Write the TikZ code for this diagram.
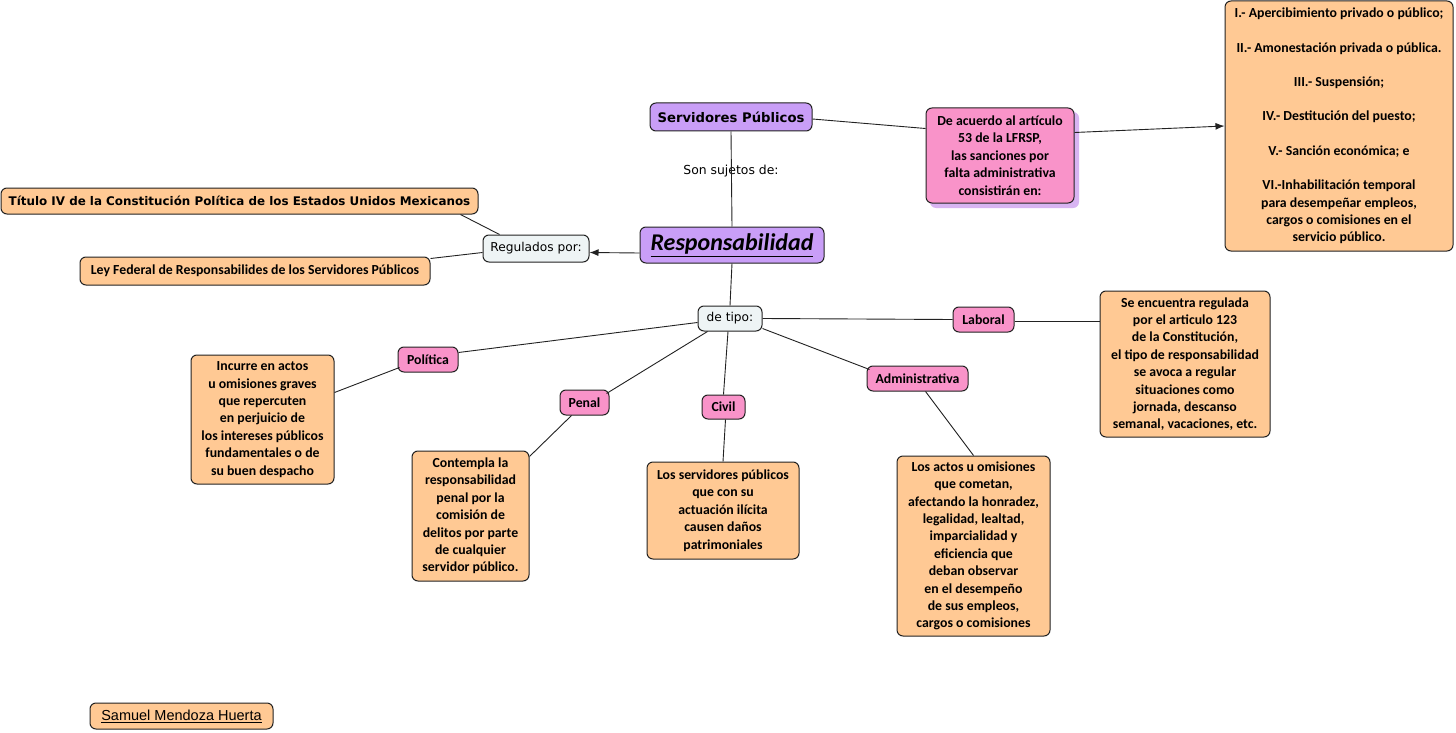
\documentclass[tikz,border=0pt]{standalone}
\usepackage{fontspec}
\setmainfont{Carlito}
\newfontfamily\verd{DejaVu Sans}
\newfontfamily\arialf{Liberation Sans}
\usetikzlibrary{arrows.meta}
\definecolor{peach}{HTML}{FFC994}
\definecolor{pinkb}{HTML}{F993C9}
\definecolor{purpleb}{HTML}{C99EF7}
\definecolor{labelb}{HTML}{EEF4F5}
\definecolor{shadowc}{HTML}{D8B4F2}
\definecolor{edgec}{HTML}{222222}
\begin{document}
\begin{tikzpicture}[x=1pt,y=-1pt,
  box/.style={draw=edgec, line width=1pt, rounded corners=6pt, align=center, inner sep=0pt,
    font=\bfseries\fontsize{13.8}{17.4}\selectfont, text=black},
  obox/.style={box, fill=peach},
  pbox/.style={box, fill=pinkb},
  vbox/.style={box, fill=purpleb},
  lbox/.style={box, fill=labelb, font=\verd\fontsize{12.2}{14}\selectfont},
  conn/.style={draw=edgec, line width=0.9pt},
  arr/.style={conn, -{Latex[length=9pt,width=7pt]}}
]
\useasboundingbox (0,0) rectangle (1456,733);
\fill[white] (0,0) rectangle (1456,733);

% main nodes
\node[vbox, minimum width=162pt, minimum height=28pt, font=\verd\bfseries\fontsize{13.2}{16}\selectfont] (serv) at (731,117) {Servidores Públicos};
\node[font=\verd\fontsize{12.4}{14}\selectfont] (son) at (731,171) {Son sujetos de:};
\node[vbox, minimum width=184pt, minimum height=36pt, font=\bfseries\itshape\fontsize{24}{26}\selectfont] (resp) at (732,245) {\underline{Responsabilidad}};
\node[lbox, minimum width=106pt, minimum height=27pt] (reg) at (536,248.5) {Regulados por:};
\node[obox, minimum width=477pt, minimum height=26pt, font=\verd\bfseries\fontsize{11.9}{14}\selectfont] (tit) at (239.5,201) {Título IV de la Constitución Política de los Estados Unidos Mexicanos};
\node[obox, minimum width=350pt, minimum height=28pt] (ley) at (255,271) {Ley Federal de Responsabilides de los Servidores Públicos};

% sanctions
\fill[shadowc, rounded corners=6pt] (930,112) rectangle (1079,208);
\node[pbox, minimum width=148pt, minimum height=95pt] (acu) at (1000,155.5) {De acuerdo al artículo\\53 de la LFRSP,\\las sanciones por\\falta administrativa\\consistirán en:};
\node[obox, minimum width=228pt, minimum height=250pt] (big) at (1339,126) {I.- Apercibimiento privado o público;\\[17pt]II.- Amonestación privada o pública.\\[17pt]III.- Suspensión;\\[17pt]IV.- Destitución del puesto;\\[17pt]V.- Sanción económica; e\\[17pt]VI.-Inhabilitación temporal\\para desempeñar empleos,\\cargos o comisiones en el\\servicio público.};

% types
\node[lbox, minimum width=64pt, minimum height=25pt] (tipo) at (730,318.5) {de tipo:};
\node[pbox, minimum width=60pt, minimum height=25pt] (pol) at (428,359.5) {Política};
\node[pbox, minimum width=49pt, minimum height=25pt] (pen) at (584.5,402.5) {Penal};
\node[pbox, minimum width=43pt, minimum height=24pt] (civ) at (723.5,407) {Civil};
\node[pbox, minimum width=101pt, minimum height=25pt] (adm) at (917.5,378.5) {Administrativa};
\node[pbox, minimum width=61pt, minimum height=25pt] (lab) at (983.5,319.5) {Laboral};

% descriptions
\node[obox, minimum width=143pt, minimum height=129pt] (inc) at (262.5,419.5) {Incurre en actos\\u omisiones graves\\que repercuten\\en perjuicio de\\los intereses públicos\\fundamentales o de\\su buen despacho};
\node[obox, minimum width=117pt, minimum height=130pt] (con) at (470.5,516) {Contempla la\\responsabilidad\\penal por la\\comisión de\\delitos por parte\\de cualquier\\servidor público.};
\node[obox, minimum width=152pt, minimum height=97pt] (los) at (723,510.5) {Los servidores públicos\\que con su\\actuación ilícita\\causen daños\\patrimoniales};
\node[obox, minimum width=153pt, minimum height=180pt] (act) at (973.5,546) {Los actos u omisiones\\que cometan,\\afectando la honradez,\\legalidad, lealtad,\\imparcialidad y\\eficiencia que\\deban observar\\en el desempeño\\de sus empleos,\\cargos o comisiones};
\node[obox, minimum width=170pt, minimum height=146pt] (se) at (1185,364) {Se encuentra regulada\\por el articulo 123\\de la Constitución,\\el tipo de responsabilidad\\se avoca a regular\\situaciones como\\jornada, descanso\\semanal, vacaciones, etc.};

\node[obox, minimum width=183pt, minimum height=26pt, font=\arialf\fontsize{14.5}{16}\selectfont] (sam) at (181.5,716) {\underline{Samuel Mendoza Huerta}};

% connectors
\draw[conn] (serv.south) -- (resp.north);
\draw[conn] ([yshift=-2pt]serv.east) -- ([yshift=-21pt]acu.north west);
\draw[arr] ([yshift=-25pt]acu.north east) -- (big.west);
\draw[arr] ([yshift=-8pt]resp.west) -- ([yshift=-4pt]reg.east);
\draw[conn] ([xshift=-18pt]tit.south east) -- ([xshift=17pt]reg.north west);
\draw[conn] ([yshift=-2pt]ley.north east) -- ([yshift=-4pt]reg.west);
\draw[conn] (resp.south) -- (tipo.north);
\draw[conn] ([yshift=-4pt]tipo.west) -- ([yshift=7pt]pol.east);
\draw[conn] ([xshift=10pt]tipo.south west) -- ([xshift=-3pt,yshift=-4pt]pen.north east);
\draw[conn] ([xshift=-2pt]tipo.south) -- (civ.north);
\draw[conn] ([yshift=3pt]tipo.south east) -- ([xshift=3pt,yshift=-4pt]adm.north west);
\draw[conn] (tipo.east) -- (lab.west);
\draw[conn] ([yshift=-2pt]lab.east) -- ([yshift=-31pt]se.north west);
\draw[conn] ([xshift=2pt,yshift=5pt]pol.south west) -- ([yshift=-38pt]inc.north east);
\draw[conn] ([xshift=12pt]pen.south west) -- ([yshift=-6pt]con.north east);
\draw[conn] ([xshift=2pt]civ.south) -- (los.north);
\draw[conn] ([xshift=8pt]adm.south) -- (act.north);
\end{tikzpicture}
\end{document}
